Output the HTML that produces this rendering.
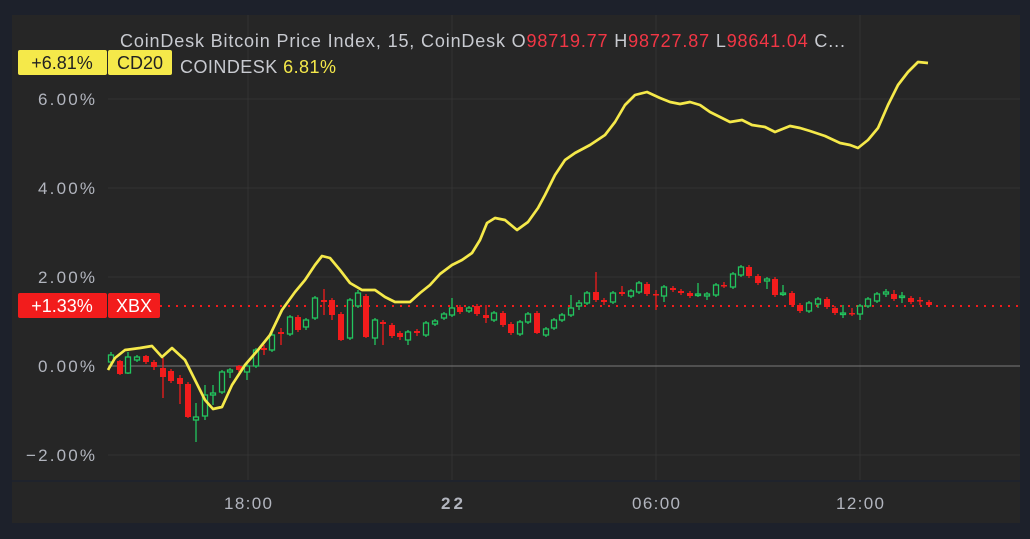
<!DOCTYPE html>
<html><head><meta charset="utf-8"><style>
html,body{margin:0;padding:0;background:#1d212b;width:1030px;height:539px;overflow:hidden;font-family:"Liberation Sans",sans-serif}
</style></head><body>
<svg width="1030" height="539" xmlns="http://www.w3.org/2000/svg" style="position:absolute;left:0;top:0">
<rect x="12" y="15" width="1008" height="508" fill="#262626"/>
<g stroke="#333" stroke-width="1">
<line x1="248" y1="15" x2="248" y2="481"/><line x1="452" y1="15" x2="452" y2="481"/><line x1="656" y1="15" x2="656" y2="481"/><line x1="860" y1="15" x2="860" y2="481"/>
<line x1="108" y1="99" x2="1020" y2="99"/><line x1="108" y1="188" x2="1020" y2="188"/><line x1="108" y1="277" x2="1020" y2="277"/><line x1="108" y1="455" x2="1020" y2="455"/>
</g>
<line x1="108" y1="366" x2="1020" y2="366" stroke="#7a7a7a" stroke-width="1"/>
<line x1="12" y1="481" x2="1020" y2="481" stroke="#1f232c" stroke-width="2"/>
<g fill="#b2b5be" font-size="17">
<text x="38" y="105" textLength="57">6.00%</text><text x="38" y="194" textLength="57">4.00%</text><text x="38" y="283" textLength="57">2.00%</text><text x="38" y="372" textLength="57">0.00%</text><text x="26" y="461" textLength="69">−2.00%</text>
</g>
<g fill="#b2b5be" font-size="17">
<text x="224" y="509" textLength="48">18:00</text><text x="441" y="509" font-weight="bold" textLength="22">22</text><text x="632" y="509" textLength="48">06:00</text><text x="836" y="509" textLength="48">12:00</text>
</g>
<line x1="160" y1="306" x2="1020" y2="306" stroke="#f21c1c" stroke-width="2" stroke-dasharray="2,6"/>
<g id="c"></g>
<polyline fill="none" stroke="#f5e94a" stroke-width="2.7" stroke-linejoin="round" points="108,370 115,358 125,350 140,348 152,346 162,357 172,348 185,360 195,380 205,400 213,409 222,407 232,385 245,365 258,350 270,335 282,310 295,292 305,280 315,265 322,256 330,258 340,270 350,283 362,290 375,290 385,297 395,302 410,302 420,293 430,285 440,274 452,265 462,260 472,253 480,240 487,223 495,218 505,220 517,230 528,222 538,208 545,195 555,175 565,160 575,153 590,145 605,135 615,122 625,105 635,95 647,92 660,98 670,102 680,104 690,102 700,105 710,112 720,117 730,122 742,120 752,125 765,127 775,132 790,126 800,128 810,131 825,136 840,143 850,145 858,148 868,140 878,128 888,105 898,85 908,72 918,62 928,63"/>
<text x="120" y="47" font-size="18" fill="#c8cad0" textLength="725" lengthAdjust="spacing">CoinDesk Bitcoin Price Index, 15, CoinDesk  O<tspan fill="#f23645">98719.77</tspan>  H<tspan fill="#f23645">98727.87</tspan>  L<tspan fill="#f23645">98641.04</tspan>  C...</text>
<text x="180" y="73" font-size="18" fill="#c8cad0" textLength="156" lengthAdjust="spacing">COINDESK  <tspan fill="#f5e94a">6.81%</tspan></text>
<rect x="18" y="50" width="89" height="25" rx="2" fill="#f5e94a"/>
<rect x="108" y="50" width="64" height="25" rx="2" fill="#f5e94a"/>
<text x="62" y="69" font-size="18" fill="#222" text-anchor="middle">+6.81%</text>
<text x="140" y="69" font-size="18" fill="#222" text-anchor="middle">CD20</text>
<rect x="18" y="293" width="89" height="25" rx="2" fill="#f21c1c"/>
<rect x="108" y="293" width="52" height="25" rx="2" fill="#f21c1c"/>
<text x="62" y="312" font-size="18" fill="#fff" text-anchor="middle">+1.33%</text>
<text x="134" y="312" font-size="18" fill="#fff" text-anchor="middle">XBX</text>
</svg>
<script>
var d=[[111,'g',355,362,352,365],[120,'r',361,374,360,375],[128,'g',357,373,352,374],[137,'g',357,360,355,362],[146,'r',356,362,355,364],[154,'r',362,367,360,370],[163,'r',368,377,358,398],[171,'r',371,381,369,383],[180,'r',378,384,375,404],[188,'r',384,417,382,418],[196,'g',417,420,403,442],[205,'g',395,416,385,420],[213,'g',393,395,385,405],[222,'g',372,392,370,394],[230,'g',370,372,368,378],[239,'r',366,370,365,372],[247,'g',366,372,362,380],[256,'g',350,366,348,368],[264,'r',348,350,345,355],[272,'g',335,350,330,352],[281,'r',332,334,328,345],[290,'g',317,334,315,336],[298,'r',317,330,315,332],[306,'g',320,327,318,330],[315,'g',298,318,296,320],[324,'r',300,302,289,315],[332,'r',300,315,298,320],[341,'r',314,340,312,341],[350,'g',300,338,298,340],[358,'g',293,306,290,308],[366,'r',296,337,294,338],[375,'g',320,338,318,345],[383,'r',322,324,320,345],[392,'r',325,336,323,338],[400,'r',333,337,331,340],[408,'g',332,340,330,345],[417,'r',331,333,329,336],[426,'g',323,335,321,337],[435,'g',321,324,319,326],[444,'g',314,318,312,320],[452,'g',308,315,298,317],[460,'r',307,312,305,314],[469,'g',308,311,306,313],[477,'r',306,314,304,316],[486,'r',315,318,305,323],[494,'g',313,320,311,322],[503,'r',313,325,311,327],[511,'r',324,333,322,335],[520,'g',322,334,320,336],[528,'g',314,322,312,324],[537,'r',313,333,311,334],[546,'g',329,335,327,337],[554,'g',320,328,318,330],[562,'g',315,320,313,322],[571,'g',308,315,295,317],[579,'g',303,306,300,310],[587,'g',293,303,291,305],[596,'r',292,300,272,302],[604,'r',300,302,298,305],[613,'g',293,302,291,304],[622,'r',292,294,286,296],[631,'g',291,296,289,298],[639,'g',283,292,281,294],[647,'r',284,294,282,296],[656,'r',294,295,290,310],[664,'g',287,296,285,302],[673,'r',288,290,286,292],[681,'r',291,293,289,295],[690,'r',293,296,291,298],[698,'g',294,295,283,297],[707,'g',294,296,292,300],[716,'g',285,295,283,297],[724,'r',285,286,282,288],[733,'g',274,287,272,289],[741,'g',267,275,265,277],[749,'r',267,276,265,278],[758,'r',276,283,274,285],[767,'g',279,281,277,289],[775,'r',279,295,277,297],[783,'g',293,294,285,296],[792,'r',293,305,291,307],[800,'r',305,311,303,313],[809,'g',303,311,301,313],[818,'g',299,304,297,308],[827,'r',299,307,297,309],[835,'r',308,313,306,315],[843,'g',313,314,305,318],[852,'r',313,314,308,316],[860,'g',306,314,304,320],[868,'g',299,306,297,308],[877,'g',294,301,292,303],[886,'g',292,294,289,297],[894,'r',294,299,290,301],[902,'g',296,297,292,303],[911,'r',298,302,296,304],[920,'r',300,301,297,305],[929,'r',302,305,300,307]];
var s='';d.forEach(function(c){var col=c[1]=='g'?'#22c55e':'#f21c1c';
s+='<line x1="'+c[0]+'" y1="'+c[4]+'" x2="'+c[0]+'" y2="'+c[5]+'" stroke="'+col+'" stroke-width="1.3"/>';
var h=Math.max(c[3]-c[2],1.5);
if(c[1]=='g')s+='<rect x="'+(c[0]-2.5)+'" y="'+c[2]+'" width="5" height="'+h+'" fill="#262626" stroke="'+col+'" stroke-width="1.3"/>';
else s+='<rect x="'+(c[0]-3)+'" y="'+c[2]+'" width="6" height="'+h+'" fill="'+col+'"/>';});
document.getElementById('c').innerHTML=s;
</script>
</body></html>
